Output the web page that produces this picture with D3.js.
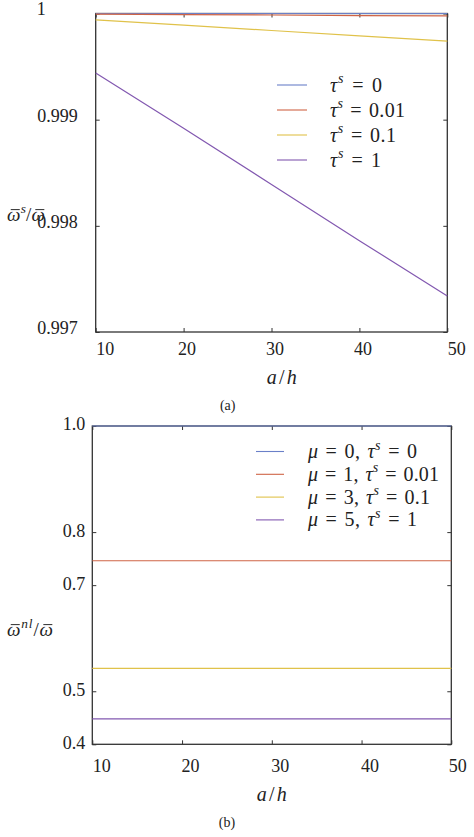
<!DOCTYPE html>
<html>
<head>
<meta charset="utf-8">
<script src="https://cdn.jsdelivr.net/npm/d3@7"></script>
<style>
  body { margin: 0; background: #fff; }
  text { font-family: "Liberation Serif", "DejaVu Serif", serif; fill: #222; }
</style>
</head>
<body>
<svg width="474" height="837"></svg>
<script>
// a/h values shared by both panels
var aOverH = [10, 20, 30, 40, 50];

// panel (a): surface-only ratio
var tauLabels = ["τ^s = 0", "τ^s = 0.01", "τ^s = 0.1", "τ^s = 1"];
var tau0 = [1, 1, 1, 1, 1];
var tau001 = [0.999995, 0.99999, 0.999986, 0.99998, 0.999977];
var tau01 = [0.99994, 0.99989, 0.99984, 0.99979, 0.99974];
var tau1 = [0.99944, 0.99892, 0.99839, 0.99786, 0.99734];
var ticksA = [0.997, 0.998, 0.999, 1];

// panel (b): nonlocal + surface ratio
var muLabels = ["μ = 0, τ^s = 0", "μ = 1, τ^s = 0.01", "μ = 3, τ^s = 0.1", "μ = 5, τ^s = 1"];
var mu0 = [1, 1, 1, 1, 1];
var mu1 = [0.746, 0.746, 0.746, 0.746, 0.746];
var mu3 = [0.543, 0.543, 0.543, 0.543, 0.543];
var mu5 = [0.448, 0.448, 0.448, 0.448, 0.448];
var ticksB = [0.4, 0.5, 0.7, 0.8, 1.0];

var xTicks = [10, 20, 30, 40, 50];
var colors = ["#6a80c8", "#cf6446", "#e0c24a", "#8258b0"];

var svg = d3.select("svg");

// writes a string like "ω̄^s/ω̄" as tspans: letters italic, ^x raised,
// a combining macron is drawn as a short bar over its letter.
// len (optional) stretches the text to the width it has in the picture
function mathText(text, str, size, len) {
  str = str.replace(/ = /g, "\u2004=\u2004").replace(/, /g, ",\u2004");
  var re = /\^([a-z]+)|([a-zα-ω]\u0304?)|([^a-zα-ω^]+)/g, m, shift = 0, idx = 0, bars = [];
  while ((m = re.exec(str))) {
    var t = text.append("tspan");
    if (m[1]) {
      t.text(m[1]).attr("font-style", "italic")
        .attr("font-size", size * 0.7).attr("dy", -size * 0.42);
      shift = size * 0.42;
      idx += m[1].length;
      continue;
    }
    if (m[2]) {
      t.text(m[2].charAt(0)).attr("font-style", "italic");
      if (m[2].length > 1) bars.push(idx);
      idx += 1;
    } else {
      t.text(m[3]);
      idx += m[3].length;
    }
    if (shift) { t.attr("dy", shift); shift = 0; }
  }
  if (len) text.attr("textLength", len).attr("lengthAdjust", "spacing");
  var node = text.node();
  bars.forEach(function (k) {
    var p = node.getStartPositionOfChar(k), e = node.getExtentOfChar(k);
    d3.select(node.parentNode).append("line")
      .attr("x1", p.x + e.width * 0.28).attr("x2", p.x + e.width * 0.95)
      .attr("y1", p.y - size * 0.6).attr("y2", p.y - size * 0.6)
      .attr("stroke", "#222").attr("stroke-width", size * 0.05);
  });
}

function panel(cfg) {
  var w = cfg.right - cfg.left, h = cfg.bottom - cfg.top;
  var g = svg.append("g").attr("transform", "translate(" + cfg.left + "," + cfg.top + ")");

  var x = d3.scaleLinear().domain([10, 50]).range([0, w]);
  var y = d3.scaleLinear().domain(cfg.yDomain).range([h, 0]);

  // frame first so the curves lying on the border show on top of it
  g.append("rect").attr("width", w).attr("height", h)
    .attr("fill", "none").attr("stroke", "#333").attr("stroke-width", 1.3);

  // tick marks on all four sides, pointing inward
  var ax = g.append("g").attr("transform", "translate(0," + h + ")")
    .call(d3.axisBottom(x).tickValues(xTicks).tickSize(-4).tickPadding(cfg.xPad));
  g.append("g").call(d3.axisTop(x).tickValues(xTicks).tickSize(-4).tickFormat(""));
  var ay = g.append("g")
    .call(d3.axisLeft(y).tickValues(cfg.yTicks).tickSize(-4).tickPadding(cfg.yPad).tickFormat(cfg.yFormat));
  g.append("g").attr("transform", "translate(" + w + ",0)")
    .call(d3.axisRight(y).tickValues(cfg.yTicks).tickSize(-4).tickFormat(""));

  g.selectAll(".domain").remove();
  g.selectAll(".tick line").attr("stroke", "#333");
  g.selectAll("g").attr("font-family", null);
  g.selectAll(".tick text").attr("font-size", 18).attr("fill", "#222");

  ax.selectAll(".tick text").each(function (d, i) {
    var t = d3.select(this);
    if (i === 0) t.attr("text-anchor", "start");
    else if (i === xTicks.length - 1) t.attr("text-anchor", "start").attr("dx", cfg.lastDx);
    else t.attr("dx", cfg.midDx);
  });
  ay.selectAll(".tick text").attr("dy", cfg.yDy);
  if (cfg.yTweak) ay.selectAll(".tick text").filter(function (d) { return d === 1; }).call(cfg.yTweak);

  var line = d3.line().x(function (d, i) { return x(aOverH[i]); }).y(function (d) { return y(d); });

  g.selectAll(".series").data(cfg.series).enter().append("path")
    .attr("class", "series")
    .attr("fill", "none")
    .attr("stroke", function (d, i) { return colors[i]; })
    .attr("stroke-width", 1.2)
    .attr("d", line);

  // legend
  var lg = svg.append("g");
  cfg.labels.forEach(function (lab, i) {
    var ly = cfg.legY + i * cfg.legStep;
    lg.append("line").attr("x1", cfg.legX).attr("x2", cfg.legX + cfg.legLen)
      .attr("y1", ly).attr("y2", ly).attr("stroke", colors[i]).attr("stroke-width", 1.1);
    mathText(lg.append("text").attr("x", cfg.legTextX).attr("y", ly + 6.5).attr("font-size", 20),
      lab, 20, cfg.legW[i]);
  });

  mathText(svg.append("text").attr("x", 7).attr("y", cfg.yLabelY).attr("font-size", 19),
    cfg.yLabel, 19, cfg.yLabelW);
  mathText(svg.append("text").attr("x", cfg.xLabelX).attr("y", cfg.xLabelY)
    .attr("text-anchor", "middle").attr("font-size", 20), "a/h", 20, 30);
  svg.append("text").attr("x", cfg.capX).attr("y", cfg.capY)
    .attr("text-anchor", "middle").attr("font-size", 14).text(cfg.caption);
}

panel({
  left: 95.7, right: 447.3, top: 13.5, bottom: 332,
  yDomain: [0.997, 1], yTicks: ticksA,
  yFormat: function (d) { return d === 1 ? "1" : d3.format(".3f")(d); },
  yPad: 18, yDy: "0.1em", xPad: 10, midDx: 3, lastDx: 0,
  yTweak: function (s) { s.attr("dx", -32).attr("dy", "0.05em"); },
  series: [tau0, tau001, tau01, tau1], labels: tauLabels,
  legX: 277, legLen: 30, legTextX: 330, legY: 85, legStep: 25, legW: [52, 75, 66, 51],
  yLabel: "ω\u0304^s/ω\u0304", yLabelY: 221, yLabelW: 38,
  xLabelX: 281.7, xLabelY: 384, caption: "(a)", capX: 227.7, capY: 410
});

panel({
  left: 92.3, right: 451.3, top: 426, bottom: 744.3,
  yDomain: [0.4, 1.0], yTicks: ticksB,
  yFormat: d3.format(".1f"),
  yPad: 7, yDy: "0.22em", xPad: 15, midDx: 8, lastDx: -3,
  series: [mu0, mu1, mu3, mu5], labels: muLabels,
  legX: 256, legLen: 28, legTextX: 308, legY: 451.5, legStep: 22.8, legW: [109, 131, 122, 109],
  yLabel: "ω\u0304^nl/ω\u0304", yLabelY: 636, yLabelW: 46,
  xLabelX: 271.7, xLabelY: 801, caption: "(b)", capX: 227, capY: 827
});
</script>
</body>
</html>
